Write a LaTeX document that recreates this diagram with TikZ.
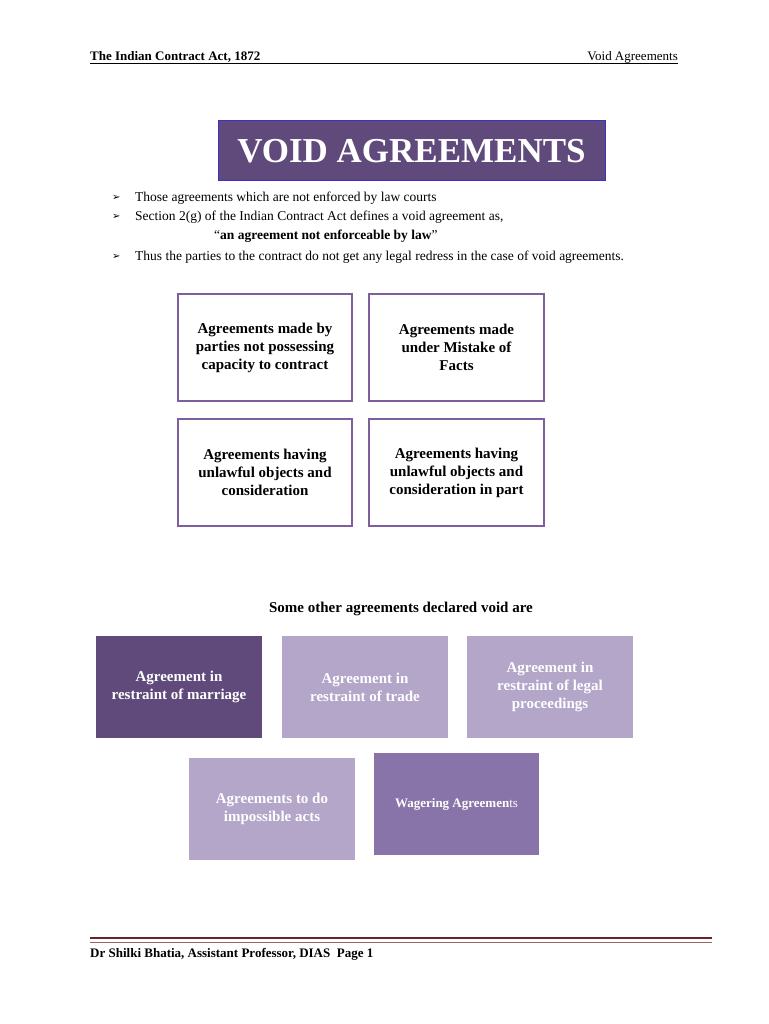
\documentclass[tikz,border=0pt]{standalone}
\usepackage{fontspec}
\setmainfont{Liberation Serif}
\begin{document}
\begin{tikzpicture}[x=1pt,y=-1pt,
  gbox/.style={draw=gborder,line width=1.8pt,fill=white,align=center,font=\fontsize{15}{18}\selectfont\bfseries,inner sep=0pt},
  sbox/.style={align=center,text=white,font=\fontsize{15}{18}\selectfont\bfseries,inner sep=0pt},
  bul/.style={anchor=west,font=\fontsize{13.5}{16}\selectfont,inner sep=0pt}]
\definecolor{gborder}{HTML}{7D5F9E}
\definecolor{dark}{HTML}{5F4A7B}
\definecolor{light}{HTML}{B3A6C9}
\definecolor{mid}{HTML}{8874A8}
\definecolor{footred}{HTML}{6E2228}
\useasboundingbox (0,0) rectangle (768,1024);
\fill[white] (0,0) rectangle (768,1024);
% header
\node[anchor=base west,inner sep=0pt,font=\fontsize{13}{15}\selectfont\bfseries] (hl) at (90,61) {The Indian Contract Act, 1872};
\node[anchor=base east,inner sep=0pt,font=\fontsize{13}{15}\selectfont] (hr) at (678,61) {Void Agreements};
\draw[line width=0.6pt] (90,63.5) -- (678,63.5);
% title
\node[draw=blue!50!gborder,line width=1pt,fill=dark,minimum width=387pt,minimum height=60pt,text=white,font=\fontsize{35}{40}\selectfont\bfseries,inner sep=0pt] (title) at (411.5,151) {VOID AGREEMENTS};
% bullets
\node[bul] (b1) at (112,198) {\fontspec{DejaVu Sans}\fontsize{10}{12}\selectfont➢};
\node[bul] (t1) at (135,198) {Those agreements which are not enforced by law courts};
\node[bul] (b2) at (112,217) {\fontspec{DejaVu Sans}\fontsize{10}{12}\selectfont➢};
\node[bul] (t2) at (135,217) {Section 2(g) of the Indian Contract Act defines a void agreement as,};
\node[bul] (t3) at (214,236) {“\textbf{an agreement not enforceable by law}”};
\node[bul] (b4) at (112,257) {\fontspec{DejaVu Sans}\fontsize{10}{12}\selectfont➢};
\node[bul] (t4) at (135,257) {Thus the parties to the contract do not get any legal redress in the case of void agreements.};
% grid boxes
\node[gbox,minimum width=174pt,minimum height=107pt] (g1) at (265,347.5) {Agreements made by\\parties not possessing\\capacity to contract};
\node[gbox,minimum width=175pt,minimum height=107pt] (g2) at (456.5,347.5) {Agreements made\\under Mistake of\\Facts};
\node[gbox,minimum width=174pt,minimum height=107pt] (g3) at (265,472.5) {Agreements having\\unlawful objects and\\consideration};
\node[gbox,minimum width=175pt,minimum height=107pt] (g4) at (456.5,472.5) {Agreements having\\unlawful objects and\\consideration in part};
% subtitle
\node[font=\fontsize{15}{18}\selectfont\bfseries,inner sep=0pt] (sub) at (401,609) {Some other agreements declared void are};
% lower boxes
\node[sbox,fill=dark,minimum width=166pt,minimum height=102pt] (s1) at (179,687) {Agreement in\\restraint of marriage};
\node[sbox,fill=light,minimum width=166pt,minimum height=102pt] (s2) at (365,687) {Agreement in\\restraint of trade};
\node[sbox,fill=light,minimum width=166pt,minimum height=102pt] (s3) at (550,687) {Agreement in\\restraint of legal\\proceedings};
\node[sbox,fill=light,minimum width=166pt,minimum height=102pt] (s4) at (272,809) {Agreements to do\\impossible acts};
\node[sbox,fill=mid,minimum width=165pt,minimum height=102pt,font=\fontsize{13}{16}\selectfont\bfseries] (s5) at (456.5,804) {Wagering Agreemen\mdseries ts};
% footer
\draw[footred,line width=2.5pt] (90,938) -- (712,938);
\draw[footred!70,line width=0.8pt] (90,942) -- (712,942);
\node[anchor=base west,inner sep=0pt,font=\fontsize{13}{15}\selectfont\bfseries] (foot) at (90,957) {Dr Shilki Bhatia, Assistant Professor, DIAS\ \ Page 1};
\end{tikzpicture}
\end{document}
